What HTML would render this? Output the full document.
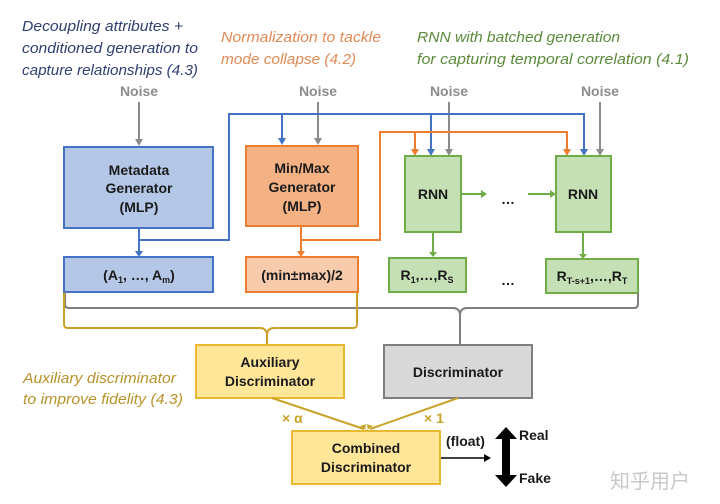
<!DOCTYPE html>
<html><head><meta charset="utf-8"><style>
html,body{margin:0;padding:0;background:#fff;width:720px;height:504px;overflow:hidden}
svg{display:block}
text{font-family:"Liberation Sans","Noto Sans CJK SC",sans-serif}
.b{font-weight:bold;font-size:14px;fill:#1a1a1a}
.i{font-style:italic;font-size:15px}
.n{font-weight:bold;font-size:14px;fill:#8c8c8c}
</style></head><body>
<svg width="720" height="504" viewBox="0 0 720 504">
<defs>
<marker id="ab" markerWidth="8" markerHeight="8" refX="4" refY="6" orient="auto" markerUnits="userSpaceOnUse"><path d="M0,0 L8,0 L4,7z" transform="rotate(0)" fill="#4472c4"/></marker>
</defs>
<!-- top texts -->
<g class="i" fill="#2f3f6f">
<text class="i" x="22" y="31" textLength="161" lengthAdjust="spacingAndGlyphs">Decoupling attributes +</text>
<text class="i" x="22" y="53" textLength="176" lengthAdjust="spacingAndGlyphs">conditioned generation to</text>
<text class="i" x="22" y="75" textLength="176" lengthAdjust="spacingAndGlyphs">capture relationships (4.3)</text>
</g>
<g fill="#e08a55">
<text class="i" x="221" y="42" textLength="160" lengthAdjust="spacingAndGlyphs">Normalization to tackle</text>
<text class="i" x="221" y="64" textLength="135" lengthAdjust="spacingAndGlyphs">mode collapse (4.2)</text>
</g>
<g fill="#5a8a3a">
<text class="i" x="417" y="42" textLength="203" lengthAdjust="spacingAndGlyphs">RNN with batched generation</text>
<text class="i" x="417" y="64" textLength="272" lengthAdjust="spacingAndGlyphs">for capturing temporal correlation (4.1)</text>
</g>
<g fill="#b8922a">
<text class="i" x="23" y="383" textLength="153" lengthAdjust="spacingAndGlyphs">Auxiliary discriminator</text>
<text class="i" x="23" y="404" textLength="160" lengthAdjust="spacingAndGlyphs">to improve fidelity (4.3)</text>
</g>
<!-- noise -->
<g class="n" text-anchor="middle">
<text class="n" x="139" y="96">Noise</text>
<text class="n" x="318" y="96">Noise</text>
<text class="n" x="449" y="96">Noise</text>
<text class="n" x="600" y="96">Noise</text>
</g>
<g stroke="#8c8c8c" stroke-width="2" fill="none">
<line x1="139" y1="102" x2="139" y2="140"/><line x1="318" y1="102" x2="318" y2="139"/>
<line x1="449" y1="102" x2="449" y2="150"/><line x1="600" y1="102" x2="600" y2="150"/>
</g>
<g fill="#8c8c8c"><path d="M135,139 h8 l-4,7z"/><path d="M314,138 h8 l-4,7z"/><path d="M445,149 h8 l-4,7z"/><path d="M596,149 h8 l-4,7z"/></g>
<!-- blue lines -->
<g stroke="#4472c4" stroke-width="2" fill="none">
<polyline points="139,228 139,252"/>
<polyline points="139,240 229,240 229,114 584,114 584,150"/>
<line x1="282" y1="114" x2="282" y2="139"/>
<line x1="431" y1="114" x2="431" y2="150"/>
</g>
<g fill="#4472c4"><path d="M135,251 h8 l-4,6z"/><path d="M278,138 h8 l-4,7z"/><path d="M427,149 h8 l-4,7z"/><path d="M580,149 h8 l-4,7z"/></g>
<!-- orange lines -->
<g stroke="#ed7d31" stroke-width="2" fill="none">
<polyline points="301,226 301,252"/>
<polyline points="301,240 380,240 380,132 567,132 567,150"/>
<line x1="415" y1="132" x2="415" y2="150"/>
</g>
<g fill="#ed7d31"><path d="M297,251 h8 l-4,6z"/><path d="M411,149 h8 l-4,7z"/><path d="M563,149 h8 l-4,7z"/></g>
<!-- green lines -->
<g stroke="#70ad47" stroke-width="2" fill="none">
<line x1="461" y1="194" x2="482" y2="194"/><line x1="528" y1="194" x2="551" y2="194"/>
<line x1="433" y1="232" x2="433" y2="253"/><line x1="583" y1="232" x2="583" y2="255"/>
</g>
<g fill="#70ad47"><path d="M481,190 v8 l6,-4z"/><path d="M550,190 v8 l6,-4z"/><path d="M429,252 h8 l-4,5z"/><path d="M579,254 h8 l-4,5z"/></g>
<!-- boxes -->
<rect x="64" y="147" width="149" height="81" fill="#b4c7e7" stroke="#4472c4" stroke-width="2"/>
<rect x="64" y="257" width="149" height="35" fill="#b4c7e7" stroke="#4472c4" stroke-width="2"/>
<rect x="246" y="146" width="112" height="80" fill="#f4b183" stroke="#ed7d31" stroke-width="2"/>
<rect x="246" y="257" width="112" height="35" fill="#f8cbad" stroke="#ed7d31" stroke-width="2"/>
<rect x="405" y="156" width="56" height="76" fill="#c5e0b4" stroke="#70ad47" stroke-width="2"/>
<rect x="556" y="156" width="55" height="76" fill="#c5e0b4" stroke="#70ad47" stroke-width="2"/>
<rect x="389" y="258" width="77" height="34" fill="#c5e0b4" stroke="#70ad47" stroke-width="2"/>
<rect x="546" y="259" width="92" height="34" fill="#c5e0b4" stroke="#70ad47" stroke-width="2"/>
<!-- brackets -->
<path d="M65,292 v12 q0,4 4,4 h384 q6,0 7,6 q1,-6 7,-6 h167 q4,0 4,-4 v-11" stroke="#7f7f7f" stroke-width="2" fill="none"/>
<line x1="460" y1="312" x2="460" y2="345" stroke="#7f7f7f" stroke-width="2"/>
<path d="M64,293 v31 q0,4 4,4 h192 q6,0 7,6 q1,-6 7,-6 h79 q4,0 4,-4 v-31" stroke="#c9a227" stroke-width="2" fill="none"/>
<line x1="267" y1="332" x2="267" y2="345" stroke="#c9a227" stroke-width="2"/>
<rect x="196" y="345" width="148" height="53" fill="#ffe699" stroke="#e8b830" stroke-width="2"/>
<rect x="384" y="345" width="148" height="53" fill="#d9d9d9" stroke="#7f7f7f" stroke-width="2"/>
<rect x="292" y="431" width="148" height="53" fill="#ffe699" stroke="#e8b830" stroke-width="2"/>
<g stroke="#c9a227" stroke-width="2"><line x1="272" y1="398" x2="364" y2="429"/><line x1="458" y1="398" x2="370" y2="429"/></g>
<path d="M360,426 l8,5 l-1,-7z M373,426 l-8,5 l1,-7z" fill="#c9a227"/>
<text x="282" y="423" font-size="14" font-weight="bold" fill="#c9a227">× α</text>
<text x="424" y="423" font-size="14" font-weight="bold" fill="#c9a227">× 1</text>
<line x1="441" y1="458" x2="486" y2="458" stroke="#000" stroke-width="1.5"/>
<path d="M484,454 l7,4 l-7,4z" fill="#000"/>
<text x="446" y="446" class="b" font-size="13">(float)</text>
<path d="M506,427 l-11,12 h7 v36 h-7 l11,12 l11,-12 h-7 v-36 h7z" fill="#000"/>
<text class="b" x="519" y="440">Real</text>
<text class="b" x="519" y="483">Fake</text>
<!-- labels -->
<g text-anchor="middle">
<text class="b" x="139" y="175">Metadata</text><text class="b" x="139" y="193">Generator</text><text class="b" x="139" y="212">(MLP)</text>
<text class="b" x="139" y="280">(A<tspan font-size="9" dy="3">1</tspan><tspan dy="-3">, …, A</tspan><tspan font-size="9" dy="3">m</tspan><tspan dy="-3">)</tspan></text>
<text class="b" x="302" y="173">Min/Max</text><text class="b" x="302" y="192">Generator</text><text class="b" x="302" y="211">(MLP)</text>
<text class="b" x="302" y="280">(min±max)/2</text>
<text class="b" x="433" y="199">RNN</text><text class="b" x="583" y="199">RNN</text>
<text class="b" x="508" y="204">…</text><text class="b" x="508" y="285">…</text>
<text class="b" x="427" y="280">R<tspan font-size="9" dy="3">1</tspan><tspan dy="-3">,…,R</tspan><tspan font-size="9" dy="3">S</tspan></text>
<text class="b" x="592" y="281">R<tspan font-size="9" dy="3">T-s+1</tspan><tspan dy="-3">,…,R</tspan><tspan font-size="9" dy="3">T</tspan></text>
<text class="b" x="270" y="367">Auxiliary</text><text class="b" x="270" y="386">Discriminator</text>
<text class="b" x="458" y="377">Discriminator</text>
<text class="b" x="366" y="453">Combined</text><text class="b" x="366" y="472">Discriminator</text>
</g>
<text x="610" y="488" font-size="20" fill="#c8c8c8" font-family="'Noto Sans CJK SC',sans-serif">知乎用户</text>
</svg>
</body></html>
